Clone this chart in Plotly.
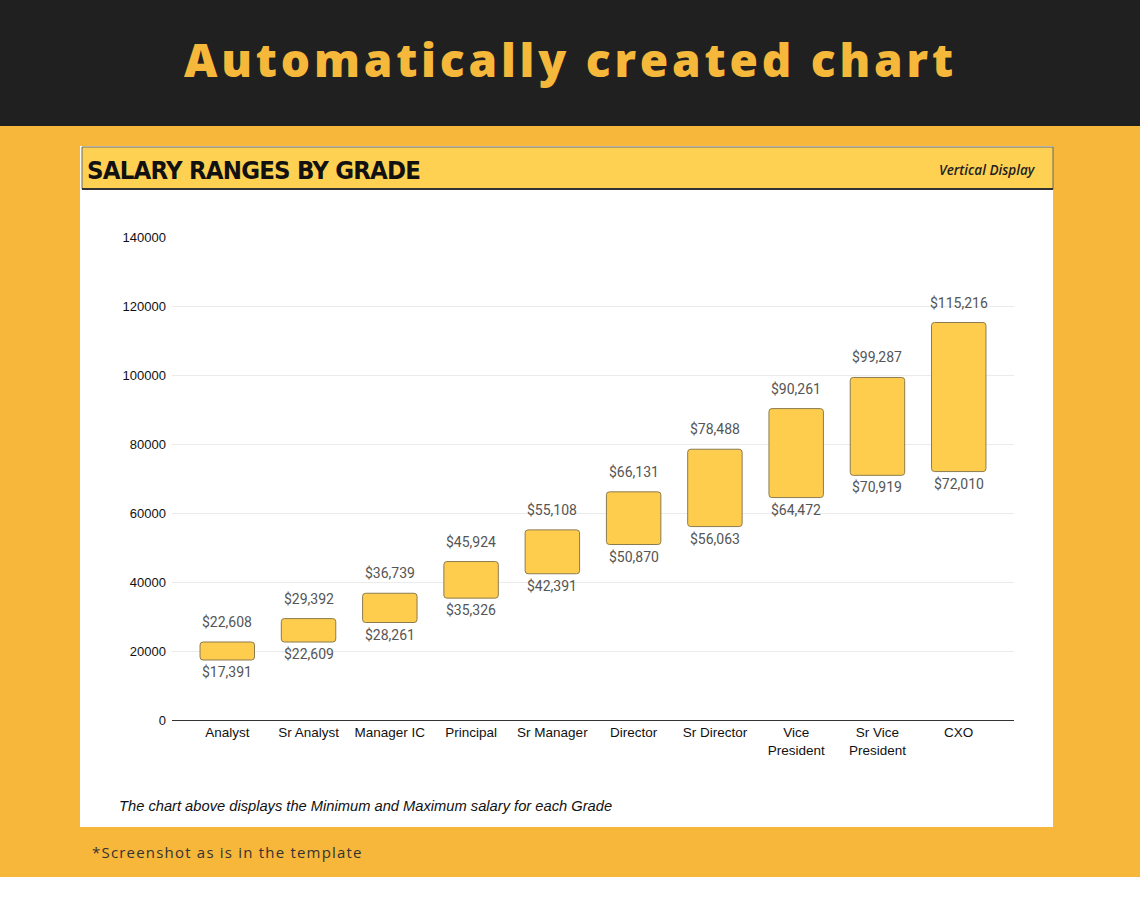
import plotly.graph_objects as go

grades = ["Analyst", "Sr Analyst", "Manager IC", "Principal", "Sr Manager",
          "Director", "Sr Director", "Vice<br>President", "Sr Vice<br>President", "CXO"]
min_salary = [17391, 22609, 28261, 35326, 42391, 50870, 56063, 64472, 70919, 72010]
max_salary = [22608, 29392, 36739, 45924, 55108, 66131, 78488, 90261, 99287, 115216]
y_ticks = [0, 20000, 40000, 60000, 80000, 100000, 120000, 140000]

W_FIG, H_FIG = 1140, 912
L, R, T, B = 172, 1014, 237, 720
PW, PH = R - L, B - T

def px(x):
    return (x - L) / PW

def py(y):
    return (B - y) / PH

spans = [mx - mn for mn, mx in zip(min_salary, max_salary)]
idx = list(range(len(grades)))

fig = go.Figure()
fig.add_trace(go.Bar(
    x=idx, y=spans, base=min_salary,
    width=0.67,
    marker=dict(color="#FFCD4D", line=dict(color="#8C7B4F", width=1), cornerradius=3),
    hoverinfo="skip", showlegend=False,
))

annotations = []
for i, mn, mx in zip(idx, min_salary, max_salary):
    annotations.append(dict(x=i, y=mx, xref="x", yref="y", text=f"${mx:,}", showarrow=False,
                            yshift=20, font=dict(family="Roboto", size=14, color="#555555")))
    annotations.append(dict(x=i, y=mn, xref="x", yref="y", text=f"${mn:,}", showarrow=False,
                            yshift=-12, font=dict(family="Roboto", size=14, color="#555555")))

# page texts
annotations.append(dict(
    x=px(570), y=py(59), xref="paper", yref="paper", xanchor="center", yanchor="middle",
    text='<span style="letter-spacing:3.8px">Automatically created chart</span>', showarrow=False,
    font=dict(family="Open Sans", size=46, color="#F6B83A", weight=800)))
annotations.append(dict(
    x=px(85), y=py(170), xref="paper", yref="paper", xanchor="left", yanchor="middle",
    text='<span style="letter-spacing:-0.8px">SALARY RANGES BY GRADE</span>', showarrow=False,
    font=dict(family="DejaVu Sans Condensed, Roboto Condensed, Liberation Sans, sans-serif",
              size=25.5, color="#111111", weight="bold")))
annotations.append(dict(
    x=px(1038), y=py(170), xref="paper", yref="paper", xanchor="right", yanchor="middle",
    text="<i>Vertical Display</i>", showarrow=False,
    font=dict(family="Open Sans", size=13.5, color="#222222", weight=600)))
annotations.append(dict(
    x=px(117), y=py(806), xref="paper", yref="paper", xanchor="left", yanchor="middle",
    text="<i>The chart above displays the Minimum and Maximum salary for each Grade</i>", showarrow=False,
    font=dict(family="Liberation Sans", size=14.7, color="#111111")))
annotations.append(dict(
    x=px(90), y=py(852), xref="paper", yref="paper", xanchor="left", yanchor="middle",
    text='<span style="letter-spacing:1.2px">*Screenshot as is in the template</span>', showarrow=False,
    font=dict(family="Open Sans", size=15, color="#333333")))

shapes = [
    dict(type="rect", xref="paper", yref="paper", x0=px(0), x1=px(1140), y0=py(0), y1=py(126),
         fillcolor="#202020", line=dict(width=0), layer="below"),
    dict(type="rect", xref="paper", yref="paper", x0=px(0), x1=px(1140), y0=py(126), y1=py(877),
         fillcolor="#F6B73A", line=dict(width=0), layer="below"),
    dict(type="rect", xref="paper", yref="paper", x0=px(80), x1=px(1053), y0=py(146), y1=py(827),
         fillcolor="#FFFFFF", line=dict(width=0), layer="below"),
    dict(type="rect", xref="paper", yref="paper", x0=px(82), x1=px(1053), y0=py(147), y1=py(189),
         fillcolor="#FFD152", line=dict(color="#666666", width=1), layer="below"),
    dict(type="line", xref="paper", yref="paper", x0=px(82), x1=px(1053), y0=py(189), y1=py(189),
         line=dict(color="#333333", width=2), layer="below"),
]

fig.update_layout(
    width=W_FIG, height=H_FIG,
    margin=dict(l=L, r=W_FIG - R, t=T, b=H_FIG - B, pad=0),
    paper_bgcolor="#FFFFFF", plot_bgcolor="rgba(0,0,0,0)",
    annotations=annotations, shapes=shapes,
    xaxis=dict(
        tickmode="array", tickvals=idx, ticktext=grades,
        range=[-0.68, 9.68], showgrid=False, zeroline=False,
        showline=True, linecolor="#333333", linewidth=1.3,
        tickfont=dict(family="Liberation Sans", size=13.5, color="#111111"),
        ticks="", fixedrange=True,
    ),
    yaxis=dict(
        range=[0, 140000], tickmode="array", tickvals=y_ticks,
        ticktext=[str(v) for v in y_ticks],
        showgrid=True, gridcolor="#EBEBEB", gridwidth=1, zeroline=False,
        tickfont=dict(family="Liberation Sans", size=13, color="#111111"),
        ticks="", ticklabelstandoff=5, fixedrange=True,
    ),
)

fig.write_html("out.html", config={"displayModeBar": False},
               post_script="document.body.style.margin='0';document.body.style.overflow='hidden';")
